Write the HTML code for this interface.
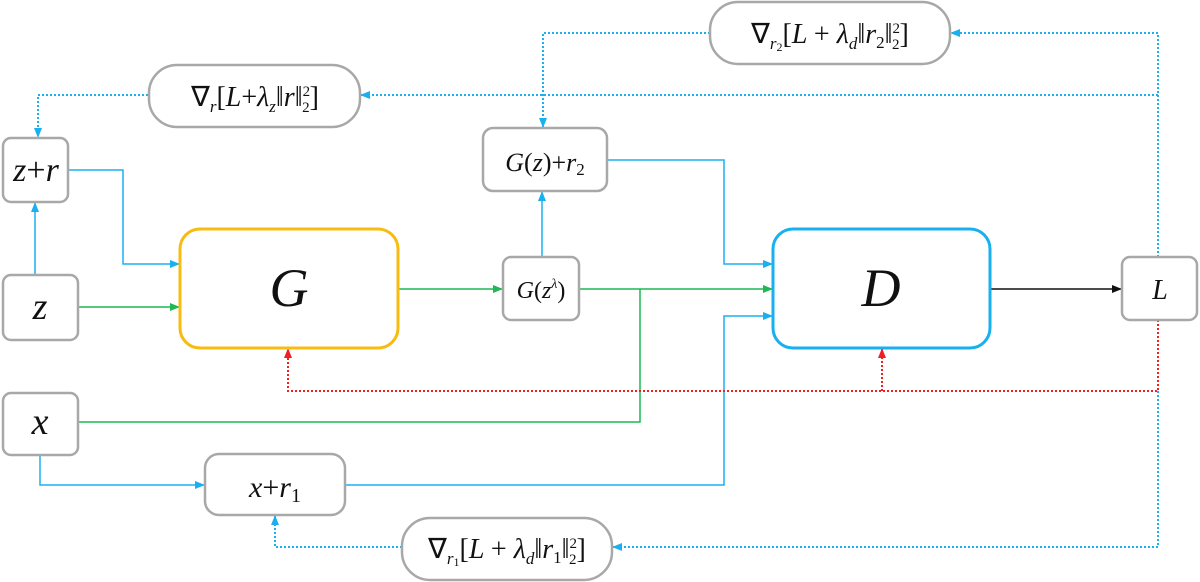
<!DOCTYPE html>
<html><head><meta charset="utf-8"><style>
html,body{margin:0;padding:0;background:#fff;}
svg{display:block;}
text{font-family:"Liberation Serif",serif;font-style:italic;fill:#111;}
.up{font-style:normal;}
</style></head><body>
<svg width="1200" height="582" viewBox="0 0 1200 582" xmlns="http://www.w3.org/2000/svg">
<defs>
<marker id="ab" markerWidth="10" markerHeight="10" refX="9" refY="5" orient="auto" markerUnits="userSpaceOnUse"><path d="M0,1 L10,5 L0,9 z" fill="#1ab0f0"/></marker>
<marker id="ag" markerWidth="10" markerHeight="10" refX="9" refY="5" orient="auto" markerUnits="userSpaceOnUse"><path d="M0,1 L10,5 L0,9 z" fill="#1db954"/></marker>
<marker id="ak" markerWidth="10" markerHeight="10" refX="9" refY="5" orient="auto" markerUnits="userSpaceOnUse"><path d="M0,1 L10,5 L0,9 z" fill="#111"/></marker>
<marker id="ar" markerWidth="10" markerHeight="10" refX="9" refY="5" orient="auto" markerUnits="userSpaceOnUse"><path d="M0,1 L10,5 L0,9 z" fill="#f02020"/></marker>
</defs>
<g fill="none" stroke-width="1.5">
<polyline points="68,170 123,170 123,264 179,264" stroke="#1ab0f0" marker-end="url(#ab)"/>
<polyline points="35,275 35,203" stroke="#1ab0f0" marker-end="url(#ab)"/>
<polyline points="542,257 542,192" stroke="#1ab0f0" marker-end="url(#ab)"/>
<polyline points="607,160 724,160 724,264 772,264" stroke="#1ab0f0" marker-end="url(#ab)"/>
<polyline points="345,485 724,485 724,316 772,316" stroke="#1ab0f0" marker-end="url(#ab)"/>
<polyline points="40,455 40,485 204,485" stroke="#1ab0f0" marker-end="url(#ab)"/>
<polyline points="78,307 179,307" stroke="#1db954" marker-end="url(#ag)"/>
<polyline points="398,289 502,289" stroke="#1db954" marker-end="url(#ag)"/>
<polyline points="579,289 772,289" stroke="#1db954" marker-end="url(#ag)"/>
<polyline points="640,289 640,422 78,422" stroke="#1db954"/>
<polyline points="990,289 1121,289" stroke="#111" marker-end="url(#ak)"/>
<g stroke="#1ab0f0" stroke-dasharray="2,2" stroke-width="2">
<polyline points="1158,257 1158,33 951,33" marker-end="url(#ab)"/>
<polyline points="1158,95 361,95" marker-end="url(#ab)"/>
<polyline points="710,33 543,33 543,127" marker-end="url(#ab)"/>
<polyline points="148,95 38,95 38,137" marker-end="url(#ab)"/>
<polyline points="1158,391 1158,547 613,547" marker-end="url(#ab)"/>
<polyline points="402,547 275,547 275,516" marker-end="url(#ab)"/>
</g>
<g stroke="#f02020" stroke-dasharray="2,2" stroke-width="2">
<polyline points="1158,320 1158,391 288,391 288,349" marker-end="url(#ar)"/>
<polyline points="882,391 882,349" marker-end="url(#ar)"/>
</g>
</g>
<g fill="#fff" stroke="#a8a8a8" stroke-width="2.5">
<rect x="149" y="65" width="211" height="62" rx="28"/>
<rect x="710" y="2" width="240" height="62" rx="28"/>
<rect x="3" y="138" width="65" height="64" rx="8"/>
<rect x="3" y="275" width="75" height="65" rx="8"/>
<rect x="503" y="257" width="76" height="63" rx="8"/>
<rect x="483" y="128" width="124" height="63" rx="10"/>
<rect x="1122" y="257" width="75" height="63" rx="8"/>
<rect x="3" y="393" width="75" height="62" rx="8"/>
<rect x="205" y="454" width="140" height="61" rx="14"/>
<rect x="402" y="518" width="210" height="62" rx="28"/>
</g>
<rect x="180" y="229" width="218" height="119" rx="20" fill="#fff" stroke="#f8bb10" stroke-width="3"/>
<rect x="773" y="229" width="217" height="119" rx="20" fill="#fff" stroke="#1ab0f0" stroke-width="3"/>
<text x="289" y="306" font-size="54" text-anchor="middle">G</text>
<text x="881" y="306" font-size="54" text-anchor="middle">D</text>
<text x="36" y="181" font-size="34" text-anchor="middle">z<tspan class="up">+</tspan>r</text>
<text x="40" y="319" font-size="38" text-anchor="middle">z</text>
<text x="40" y="434" font-size="38" text-anchor="middle">x</text>
<text x="1160" y="299" font-size="28" text-anchor="middle">L</text>
<text x="541" y="298" font-size="24" text-anchor="middle">G<tspan class="up">(</tspan>z<tspan font-size="14" dy="-10">λ</tspan><tspan class="up" dy="10">)</tspan></text>
<text x="545" y="171" font-size="26" text-anchor="middle">G<tspan class="up">(</tspan>z<tspan class="up">)+</tspan>r<tspan class="up" font-size="17" dy="4">2</tspan></text>
<text x="275" y="497" font-size="30" text-anchor="middle">x<tspan class="up">+</tspan>r<tspan class="up" font-size="20" dy="5">1</tspan></text>
<text x="255" y="106" font-size="28" text-anchor="middle"><tspan class="up">∇</tspan><tspan font-size="17" dy="6">r</tspan><tspan class="up" dy="-6">[</tspan>L<tspan class="up">+</tspan>λ<tspan font-size="17" dy="6">z</tspan><tspan class="up" dy="-6">‖</tspan>r<tspan class="up">‖</tspan><tspan class="up" font-size="15" dy="-10">2</tspan><tspan class="up" font-size="15" dx="-8" dy="16">2</tspan><tspan class="up" dy="-6">]</tspan></text>
<text x="830" y="43" font-size="28" text-anchor="middle"><tspan class="up">∇</tspan><tspan font-size="17" dy="6">r</tspan><tspan class="up" font-size="12" dy="2">2</tspan><tspan class="up" dy="-8">[</tspan>L <tspan class="up">+</tspan> λ<tspan font-size="17" dy="6">d</tspan><tspan class="up" dy="-6">‖</tspan>r<tspan class="up" font-size="17" dy="5">2</tspan><tspan class="up" dy="-5">‖</tspan><tspan class="up" font-size="15" dy="-10">2</tspan><tspan class="up" font-size="15" dx="-8" dy="16">2</tspan><tspan class="up" dy="-6">]</tspan></text>
<text x="507" y="558" font-size="28" text-anchor="middle"><tspan class="up">∇</tspan><tspan font-size="17" dy="6">r</tspan><tspan class="up" font-size="12" dy="2">1</tspan><tspan class="up" dy="-8">[</tspan>L <tspan class="up">+</tspan> λ<tspan font-size="17" dy="6">d</tspan><tspan class="up" dy="-6">‖</tspan>r<tspan class="up" font-size="17" dy="5">1</tspan><tspan class="up" dy="-5">‖</tspan><tspan class="up" font-size="15" dy="-10">2</tspan><tspan class="up" font-size="15" dx="-8" dy="16">2</tspan><tspan class="up" dy="-6">]</tspan></text>
</svg>
</body></html>
